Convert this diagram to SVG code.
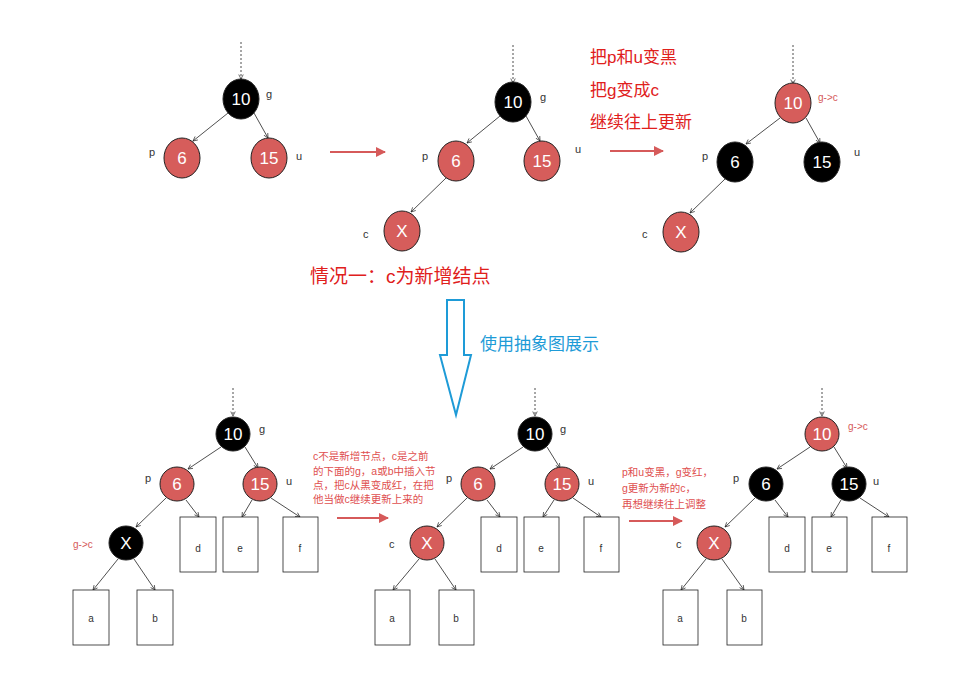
<svg xmlns="http://www.w3.org/2000/svg" width="972" height="691" viewBox="0 0 972 691">
<defs>
<marker id="a" viewBox="0 0 10 10" refX="9" refY="5" markerWidth="7" markerHeight="7" orient="auto"><path d="M1,1 L9,5 L1,9" fill="none" stroke="#222" stroke-width="1.2"/></marker>
<marker id="r" viewBox="0 0 10 10" refX="9" refY="5" markerWidth="5" markerHeight="5" orient="auto"><path d="M0,0 L10,5 L0,10z" fill="#d65a5a"/></marker>
<style>
.b{fill:#000;stroke:#222}.rd{fill:#d65d5b;stroke:#222}
.n{font-family:"Liberation Sans",sans-serif;font-size:17px;fill:#fff;text-anchor:middle;dominant-baseline:central}
.l{font-family:"Liberation Sans",sans-serif;font-size:11px;fill:#333}
.lr{font-family:"Liberation Sans",sans-serif;font-size:10px;fill:#d65a5a}
.e{stroke:#222;stroke-width:0.8;fill:none;marker-end:url(#a)}
.d{stroke:#222;stroke-width:0.8;stroke-dasharray:2,2;fill:none;marker-end:url(#a)}
.ra{stroke:#d65a5a;stroke-width:2;marker-end:url(#r)}
.bx{fill:#fff;stroke:#222;stroke-width:0.8}
.bt{font-family:"Liberation Sans",sans-serif;font-size:10px;fill:#333;text-anchor:middle}
.cn{font-family:"Liberation Sans","Noto Sans CJK SC",sans-serif;fill:#e0201c}
.cs{font-family:"Liberation Sans","Noto Sans CJK SC",sans-serif;font-size:10.5px;fill:#e05050}
</style>
</defs>
<g id="connectors">
<path class="d" d="M241,42V79"/><path class="e" d="M228,113L193,141"/><path class="e" d="M254,113L268,138"/>
<path class="ra" d="M330,152H385"/>
<path class="d" d="M513,45V83"/><path class="e" d="M500,116L467,143"/><path class="e" d="M526,116L540,141"/><path class="e" d="M446,178L411,212"/>
<path class="ra" d="M610,151H663"/>
<path class="d" d="M793,45V84"/><path class="e" d="M780,118L746,144"/><path class="e" d="M806,118L820,143"/><path class="e" d="M725,179L690,213"/>
<path class="d" d="M233,388V416"/><path class="e" d="M221,447L188,469"/><path class="e" d="M245,447L258,468"/><path class="e" d="M166,498L136,527"/><path class="e" d="M186,500L199,517"/><path class="e" d="M252,500L242,517"/><path class="e" d="M271,498L300,517"/><path class="e" d="M118,559L93,590"/><path class="e" d="M134,559L155,590"/>
<path class="ra" d="M337,518H388"/>
<path class="d" d="M535,388V416"/><path class="e" d="M523,447L490,469"/><path class="e" d="M547,447L560,468"/><path class="e" d="M467,498L437,527"/><path class="e" d="M487,500L500,517"/><path class="e" d="M554,500L543,517"/><path class="e" d="M573,498L601,517"/><path class="e" d="M419,559L393,590"/><path class="e" d="M435,559L456,590"/>
<path class="ra" d="M629,521H682"/>
<path class="d" d="M822,388V416"/><path class="e" d="M810,447L777,469"/><path class="e" d="M834,447L847,468"/><path class="e" d="M755,498L725,527"/><path class="e" d="M775,500L788,517"/><path class="e" d="M841,500L831,517"/><path class="e" d="M860,498L889,517"/><path class="e" d="M706,559L681,590"/><path class="e" d="M722,559L744,590"/>
</g>
<g id="t1">
<ellipse class="b" cx="241" cy="99" rx="18" ry="20"/><text class="n" x="241" y="99">10</text><text class="l" x="266" y="98">g</text>
<ellipse class="rd" cx="182" cy="158" rx="18" ry="20"/><text class="n" x="182" y="158">6</text><text class="l" x="149" y="156">p</text>
<ellipse class="rd" cx="269" cy="158" rx="18" ry="20"/><text class="n" x="269" y="158">15</text><text class="l" x="296" y="160">u</text>
</g>
<g id="t2">
<ellipse class="b" cx="513" cy="102" rx="18" ry="20"/><text class="n" x="513" y="102">10</text><text class="l" x="540" y="101">g</text>
<ellipse class="rd" cx="456" cy="161" rx="18" ry="20"/><text class="n" x="456" y="161">6</text><text class="l" x="422" y="160">p</text>
<ellipse class="rd" cx="542" cy="161" rx="18" ry="20"/><text class="n" x="542" y="161">15</text><text class="l" x="575" y="153">u</text>
<ellipse class="rd" cx="402" cy="231" rx="18" ry="20"/><text class="n" x="402" y="231">X</text><text class="l" x="363" y="238">c</text>
</g>
<g id="t3">
<ellipse class="rd" cx="793" cy="103" rx="18" ry="20"/><text class="n" x="793" y="103">10</text><text class="lr" x="818" y="101">g-&gt;c</text>
<ellipse class="b" cx="735" cy="162" rx="18" ry="20"/><text class="n" x="735" y="162">6</text><text class="l" x="702" y="160">p</text>
<ellipse class="b" cx="822" cy="162" rx="18" ry="20"/><text class="n" x="822" y="162">15</text><text class="l" x="854" y="156">u</text>
<ellipse class="rd" cx="681" cy="232" rx="18" ry="20"/><text class="n" x="681" y="232">X</text><text class="l" x="642" y="238">c</text>
</g>
<g id="texts">
<text class="cn" font-size="17" x="590" y="63">把p和u变黑</text>
<text class="cn" font-size="17" x="590" y="96">把g变成c</text>
<text class="cn" font-size="17" x="590" y="128">继续往上更新</text>
<text class="cn" font-size="19" x="310" y="283">情况一：c为新增结点</text>
<text x="480" y="350" font-family="Liberation Sans,Noto Sans CJK SC,sans-serif" font-size="17" fill="#1e9bd7">使用抽象图展示</text>
<text class="cs" x="313" y="460">c不是新增节点，c是之前</text>
<text class="cs" x="313" y="475">的下面的g，a或b中插入节</text>
<text class="cs" x="313" y="489">点，把c从黑变成红，在把</text>
<text class="cs" x="313" y="503">他当做c继续更新上来的</text>
<text class="cs" x="622" y="476">p和u变黑，g变红，</text>
<text class="cs" x="622" y="492">g更新为新的c，</text>
<text class="cs" x="622" y="508">再想继续往上调整</text>
</g>
<g id="bigarrow"><path d="M447,300H464V355H471L456,415L440,355H447Z" fill="#fff" stroke="#1e9bd7" stroke-width="2"/></g>
<g id="b1">
<ellipse class="b" cx="233" cy="434" rx="17" ry="17"/><text class="n" x="233" y="434">10</text><text class="l" x="259" y="433">g</text>
<ellipse class="rd" cx="177" cy="484" rx="17" ry="17"/><text class="n" x="177" y="484">6</text><text class="l" x="145" y="482">p</text>
<ellipse class="rd" cx="260" cy="484" rx="17" ry="17"/><text class="n" x="260" y="484">15</text><text class="l" x="286" y="485">u</text>
<ellipse class="b" cx="126" cy="543" rx="17" ry="17"/><text class="n" x="126" y="543">X</text><text class="lr" x="73" y="548">g-&gt;c</text>
<rect class="bx" x="180" y="517" width="36" height="55"/><text class="bt" x="198" y="552">d</text>
<rect class="bx" x="223" y="517" width="35" height="55"/><text class="bt" x="240" y="552">e</text>
<rect class="bx" x="283" y="517" width="35" height="55"/><text class="bt" x="300" y="552">f</text>
<rect class="bx" x="73" y="590" width="36" height="55"/><text class="bt" x="91" y="622">a</text>
<rect class="bx" x="137" y="590" width="36" height="55"/><text class="bt" x="155" y="622">b</text>
</g>
<g id="b2">
<ellipse class="b" cx="535" cy="434" rx="17" ry="17"/><text class="n" x="535" y="434">10</text><text class="l" x="560" y="433">g</text>
<ellipse class="rd" cx="478" cy="484" rx="17" ry="17"/><text class="n" x="478" y="484">6</text><text class="l" x="446" y="482">p</text>
<ellipse class="rd" cx="562" cy="484" rx="17" ry="17"/><text class="n" x="562" y="484">15</text><text class="l" x="588" y="485">u</text>
<ellipse class="rd" cx="427" cy="543" rx="17" ry="17"/><text class="n" x="427" y="543">X</text><text class="l" x="389" y="548">c</text>
<rect class="bx" x="481" y="517" width="36" height="55"/><text class="bt" x="499" y="552">d</text>
<rect class="bx" x="524" y="517" width="35" height="55"/><text class="bt" x="541" y="552">e</text>
<rect class="bx" x="584" y="517" width="35" height="55"/><text class="bt" x="601" y="552">f</text>
<rect class="bx" x="375" y="590" width="35" height="55"/><text class="bt" x="392" y="622">a</text>
<rect class="bx" x="439" y="590" width="35" height="55"/><text class="bt" x="456" y="622">b</text>
</g>
<g id="b3">
<ellipse class="rd" cx="822" cy="434" rx="17" ry="17"/><text class="n" x="822" y="434">10</text><text class="lr" x="848" y="430">g-&gt;c</text>
<ellipse class="b" cx="766" cy="484" rx="17" ry="17"/><text class="n" x="766" y="484">6</text><text class="l" x="733" y="482">p</text>
<ellipse class="b" cx="849" cy="484" rx="17" ry="17"/><text class="n" x="849" y="484">15</text><text class="l" x="873" y="485">u</text>
<ellipse class="rd" cx="714" cy="543" rx="17" ry="17"/><text class="n" x="714" y="543">X</text><text class="l" x="676" y="548">c</text>
<rect class="bx" x="769" y="517" width="36" height="55"/><text class="bt" x="787" y="552">d</text>
<rect class="bx" x="812" y="517" width="35" height="55"/><text class="bt" x="829" y="552">e</text>
<rect class="bx" x="872" y="517" width="35" height="55"/><text class="bt" x="889" y="552">f</text>
<rect class="bx" x="663" y="590" width="35" height="55"/><text class="bt" x="680" y="622">a</text>
<rect class="bx" x="727" y="590" width="35" height="55"/><text class="bt" x="744" y="622">b</text>
</g>
</svg>
